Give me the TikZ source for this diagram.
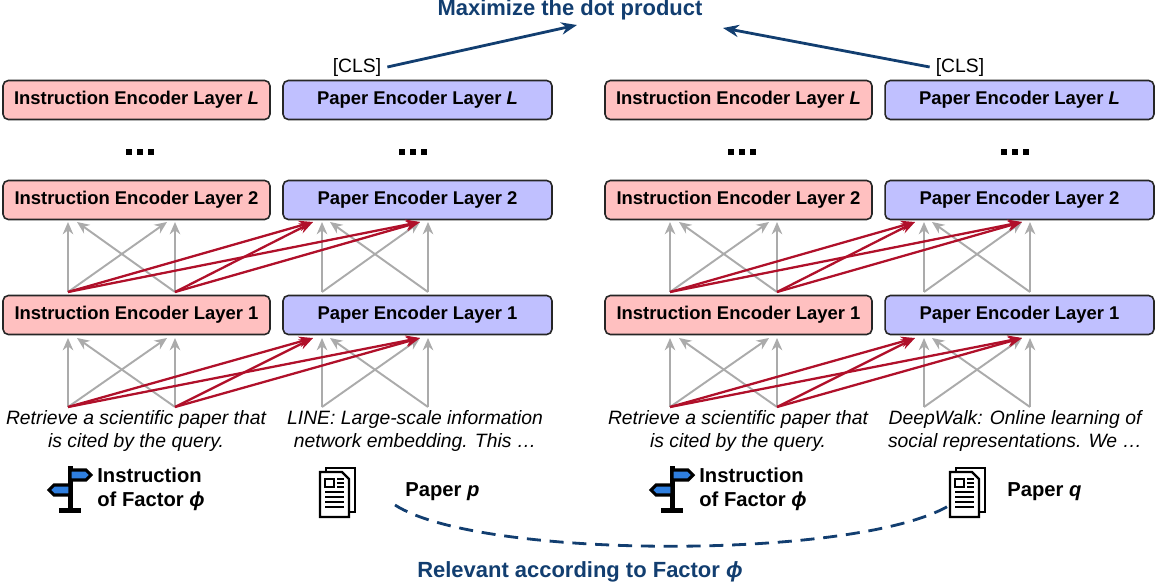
\documentclass[tikz,border=0pt]{standalone}
\usepackage{fontspec}
\setmainfont{Liberation Sans}
\usetikzlibrary{arrows.meta}
\definecolor{ipink}{HTML}{FFC0C0}
\definecolor{pblue}{HTML}{C0C0FF}
\definecolor{ared}{HTML}{B0102A}
\definecolor{agray}{HTML}{ABABAB}
\definecolor{dblue}{HTML}{123E70}
\definecolor{iblue}{HTML}{2F7FE0}
\newcommand{\fphi}{\textit{\char"03D5}}
\begin{document}
\begin{tikzpicture}[x=0.02cm, y=-0.02cm,
  box/.style = {draw=black!85, line width=0.9pt, rounded corners=3pt, minimum height=0.78cm, inner sep=0pt, font=\bfseries\fontsize{10.5}{12}\selectfont},
  ibox/.style = {box, fill=ipink, minimum width=5.34cm},
  pbox/.style = {box, fill=pblue, minimum width=5.38cm},
  g/.style = {agray, line width=1.1pt, -{Stealth[length=7pt,width=6pt]}},
  r/.style = {ared, line width=1.3pt, -{Stealth[length=8pt,width=6pt]}},
  b/.style = {dblue, line width=1.6pt, -{Stealth[length=9pt,width=7pt]}},
  txt/.style = {font=\itshape\fontsize{11}{13.5}\selectfont, align=center, inner sep=0pt},
  lbl/.style = {font=\bfseries\fontsize{11.5}{13.5}\selectfont, align=left, inner sep=0pt},
  dot/.style = {fill=black, minimum size=0.12cm, inner sep=0pt}]
\useasboundingbox (0,0) rectangle (1155,585);

\foreach \s/\o in {a/0, b/602} {
  \begin{scope}[xshift=\o*0.02cm]
    \node[ibox] (\s iL) at (136.5,100) {Instruction Encoder Layer \textit{L}};
    \node[pbox] (\s pL) at (417.5,100) {Paper Encoder Layer \textit{L}};
    \node[ibox] (\s i2) at (136.5,200) {Instruction Encoder Layer 2};
    \node[pbox] (\s p2) at (417.5,200) {Paper Encoder Layer 2};
    \node[ibox] (\s i1) at (136.5,315) {Instruction Encoder Layer 1};
    \node[pbox] (\s p1) at (417.5,315) {Paper Encoder Layer 1};
    \foreach \dx in {-11,0,11} {
      \node[dot] at (140+\dx,152) {};
      \node[dot] at (413+\dx,152) {};
    }
    % source points
    \foreach \y/\t in {292/2, 407/1} {
      \coordinate (\s a\t) at (68,\y);  \coordinate (\s b\t) at (175,\y);
      \coordinate (\s c\t) at (322,\y); \coordinate (\s d\t) at (428,\y);
    }
    \foreach \t/\yy in {2/222, 1/338} {
      \draw[g] (\s a\t) -- (68,\yy);  \draw[g] (\s a\t) -- (167,\yy);
      \draw[g] (\s b\t) -- (175,\yy); \draw[g] (\s b\t) -- (77,\yy);
      \draw[g] (\s c\t) -- (322,\yy); \draw[g] (\s c\t) -- (420,\yy);
      \draw[g] (\s d\t) -- (428,\yy); \draw[g] (\s d\t) -- (330,\yy);
      \draw[r] (\s a\t) -- (313,\yy); \draw[r] (\s a\t) -- (420,\yy);
      \draw[r] (\s b\t) -- (313,\yy); \draw[r] (\s b\t) -- (420,\yy);
    }
    % signpost icon
    \begin{scope}[shift={(70,490)}]
      \fill (-2.5,-24) rectangle (2.5,20);
      \fill (-11,18) rectangle (11,23);
      \filldraw[fill=iblue, draw=black, line width=1.8pt] (0,-20) -- (16,-20) -- (21,-15) -- (16,-10) -- (0,-10) -- cycle;
      \filldraw[fill=iblue, draw=black, line width=1.8pt] (0,-5) -- (-16,-5) -- (-21,0) -- (-16,5) -- (0,5) -- cycle;
    \end{scope}
  \end{scope}
}

% texts
\node[txt] (at) at (136,431) {Retrieve a scientific paper that\\is cited by the query.};
\node[txt] (ap) at (415,431) {LINE: Large-scale information\\network embedding. This \dots};
\node[txt] (bt) at (738,431) {Retrieve a scientific paper that\\is cited by the query.};
\node[txt] (bp) at (1015,431) {DeepWalk: Online learning of\\social representations. We \dots};
\node[lbl, anchor=west] (ainst) at (97,489) {Instruction\\of Factor \fphi};
\node[lbl, anchor=west] (binst) at (699,489) {Instruction\\of Factor \fphi};

% paper icons
\foreach \x in {338, 968} {
  \begin{scope}[shift={(\x,492)}]
    \draw[line width=1.3pt, fill=white] (-12,-24) rectangle (17,20);
    \draw[line width=1.3pt, fill=white] (-18,-20) -- (4,-20) -- (11,-13) -- (11,25) -- (-18,25) -- cycle;
    \draw[line width=1.1pt] (-13,-13) rectangle (-4,-5);
    \foreach \yy in {-13,-9,-5,0,5,10,15} { \draw[line width=1pt] (\ifnum\yy<-1 -1\else -13\fi,\yy) -- (6,\yy); }
  \end{scope}
}
\node[lbl, anchor=west] (pp) at (405,492) {Paper \textit{p}};
\node[lbl, anchor=west] (pq) at (1007,492) {Paper \textit{q}};

% relevance
\coordinate (ra) at (395,505);
\coordinate (rb) at (950,505);
\draw[dblue, line width=1.6pt, dash pattern=on 8pt off 5pt] (ra) .. controls (480,560) and (860,560) .. (rb);
\node[font=\bfseries\fontsize{12.5}{14}\selectfont, text=dblue] (rel) at (580,572) {Relevant according to Factor \fphi};

% top
\node[font=\bfseries\fontsize{12.5}{14}\selectfont, text=dblue] (max) at (570,10) {Maximize the dot product};
\node[font=\fontsize{11}{13}\selectfont] (cls1) at (357,67) {[CLS]};
\node[font=\fontsize{11}{13}\selectfont] (cls2) at (960,67) {[CLS]};
\draw[b] (cls1.east) -- (577,25);
\draw[b] (cls2.west) -- (723,28);
\end{tikzpicture}
\end{document}
